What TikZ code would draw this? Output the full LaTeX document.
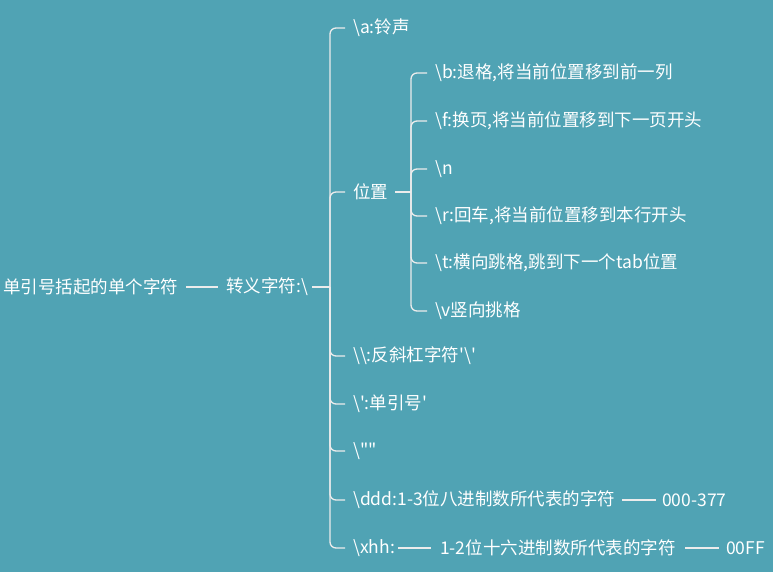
\documentclass[tikz,border=0pt]{standalone}
\usepackage{fontspec}
\newfontfamily\cjk{Noto Sans CJK SC}
\begin{document}
\begin{tikzpicture}[x=1pt,y=-1pt,
  lbl/.style={anchor=west,inner sep=0pt,text=white,font=\cjk\fontsize{17.5}{18}\selectfont},
  conn/.style={draw=white!85!gray,line width=1.3pt,rounded corners=6pt}]
\fill[fill={rgb,255:red,80;green,163;blue,180}] (0,0) rectangle (773,572);
\useasboundingbox (0,0) rectangle (773,572);
\node[lbl] (root) at (3,287) {单引号括起的单个字符};
\node[lbl] (esc) at (226,287) {转义字符:\textbackslash};
\draw[conn] (186,287) -- (218,287);
\coordinate (b1) at (330,287);
\draw[conn] (312,287) -- (b1);
\foreach \y/\t/\n in {28/{\textbackslash a:铃声}/a, 192/{位置}/pos, 356/{\textbackslash\textbackslash:反斜杠字符'\textbackslash'}/bs, 404/{\textbackslash':单引号'}/sq, 451/{\textbackslash""}/dq, 500/{\textbackslash ddd:1-3位八进制数所代表的字符}/ddd, 548/{\textbackslash xhh:}/xhh}{
  \node[lbl] (\n) at (353,\y) {\t};
  \draw[conn] (b1) |- (345,\y);
}
\coordinate (b2) at (411,192);
\draw[conn] (395,192) -- (b2);
\foreach \y/\t/\n in {73/{\textbackslash b:退格,将当前位置移到前一列}/b, 121/{\textbackslash f:换页,将当前位置移到下一页开头}/f, 169/{\textbackslash n}/n, 216/{\textbackslash r:回车,将当前位置移到本行开头}/r, 263/{\textbackslash t:横向跳格,跳到下一个tab位置}/t, 311/{\textbackslash v竖向挑格}/v}{
  \node[lbl] (\n) at (435,\y) {\t};
  \draw[conn] (b2) |- (427,\y);
}
\node[lbl] (oct) at (662,500) {000-377};
\draw[conn] (622,500) -- (656,500);
\node[lbl] (hex) at (440,548) {1-2位十六进制数所代表的字符};
\draw[conn] (398,548) -- (431,548);
\node[lbl] (hexr) at (726,548) {00FF};
\draw[conn] (685,548) -- (719,548);
\end{tikzpicture}
\end{document}
